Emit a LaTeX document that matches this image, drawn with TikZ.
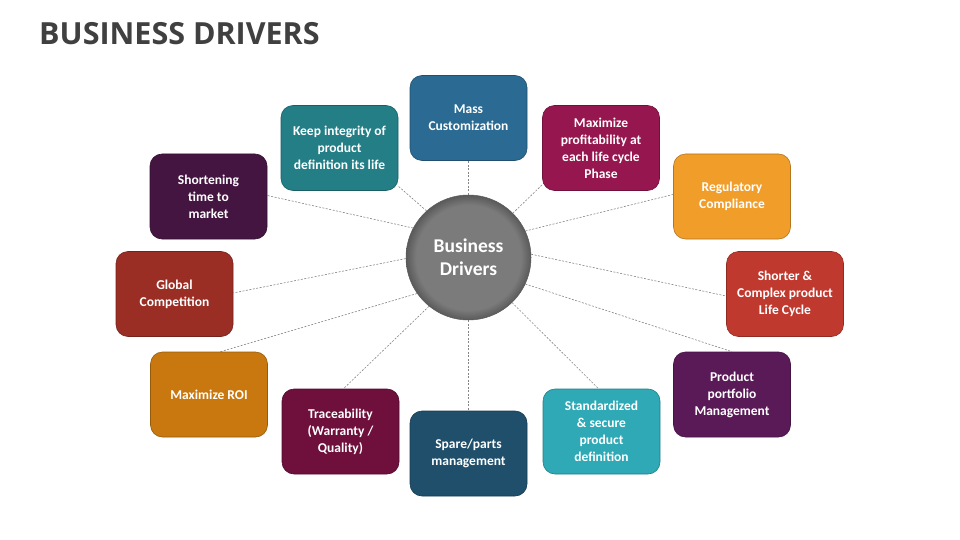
\documentclass[tikz,border=0pt]{standalone}
\usepackage{fontspec}
\setmainfont{Carlito}
\newfontfamily\headfont{Open Sans}
\usetikzlibrary{backgrounds}

\definecolor{headgray}{HTML}{404040}
\definecolor{hubgray}{HTML}{7B7B7B}
\definecolor{hubrim}{HTML}{5A5A5A}
\definecolor{linkgray}{HTML}{858585}
\definecolor{cKeep}{HTML}{237E86}
\definecolor{cMass}{HTML}{2A6A93}
\definecolor{cProfit}{HTML}{96174F}
\definecolor{cRegul}{HTML}{F09D2A}
\definecolor{cShorter}{HTML}{C0392F}
\definecolor{cPortf}{HTML}{5A1A58}
\definecolor{cStand}{HTML}{2EA9B5}
\definecolor{cSpare}{HTML}{1F4F6B}
\definecolor{cTrace}{HTML}{6E0F3C}
\definecolor{cROI}{HTML}{C8780E}
\definecolor{cGlobal}{HTML}{9A2E24}
\definecolor{cTime}{HTML}{441541}

\pgfdeclareradialshading{hubshade}{\pgfpoint{0bp}{0bp}}{color(0bp)=(hubgray); color(21bp)=(hubgray); color(25bp)=(hubrim); color(50bp)=(hubrim)}

\begin{document}
\begin{tikzpicture}[x=1pt,y=-1pt,
    driver/.style={rounded corners=12pt, minimum width=117pt, minimum height=85pt, inner sep=2pt,
      align=center, text=white, font=\bfseries\fontsize{13.5}{17}\selectfont, draw=#1!75!black, fill=#1, line width=.6pt},
    link/.style={linkgray, line width=.6pt, dash pattern=on 2pt off 1.5pt}]
    \useasboundingbox (0,0) rectangle (960,540);
    \node[anchor=base west, text=headgray, font=\headfont\bfseries\fontsize{30.5}{36}\selectfont, inner sep=0pt] (title) at (39,45) {BUSINESS DRIVERS};

    \node[circle, minimum size=125pt, inner sep=0pt, shading=hubshade, draw=hubrim, line width=.5pt,
      align=center, text=white, font=\bfseries\fontsize{19.5}{23}\selectfont] (hub) at (468.5,257.5) {Business\\Drivers};

    \node[driver=cMass] (mass) at (468.5,118) {Mass\\Customization};
    \node[driver=cProfit] (profit) at (601,148) {Maximize\\profitability at\\each life cycle\\Phase};
    \node[driver=cRegul] (regul) at (732,196.5) {Regulatory\\Compliance};
    \node[driver=cShorter] (shorter) at (785,294) {Shorter \&\\Complex product\\Life Cycle};
    \node[driver=cPortf] (portf) at (732,394.5) {Product\\portfolio\\Management};
    \node[driver=cStand] (stand) at (601.5,431.5) {Standardized\\\& secure\\product\\definition};
    \node[driver=cSpare] (spare) at (468.5,453.5) {Spare/parts\\management};
    \node[driver=cTrace] (trace) at (340.5,431.5) {Traceability\\(Warranty /\\Quality)};
    \node[driver=cROI] (roi) at (209,394.5) {Maximize ROI};
    \node[driver=cGlobal] (global) at (174.5,294) {Global\\Competition};
    \node[driver=cTime] (time) at (208.5,196.5) {Shortening\\time to\\market};
    \node[driver=cKeep] (keep) at (339.5,148) {Keep integrity of\\product\\definition its life};

    \begin{scope}[on background layer]
        \draw[link] (hub.90) -- (mass.south);
        \draw[link] (hub.45.6) -- (profit.212.5);
        \draw[link] (hub.25.2) -- (regul.178.5);
        \draw[link] (hub.3.2) -- (shorter.182);
        \draw[link] (hub.-25.2) -- (portf.north);
        \draw[link] (hub.-46.9) -- (stand.94.7);
        \draw[link] (hub.-90) -- (spare.north);
        \draw[link] (hub.231) -- (trace.86.7);
        \draw[link] (hub.215.3) -- (roi.75.5);
        \draw[link] (hub.181) -- (global.1);
        \draw[link] (hub.152.4) -- (time.1.5);
        \draw[link] (hub.132.5) -- (keep.-33.7);
    \end{scope}
\end{tikzpicture}
\end{document}
